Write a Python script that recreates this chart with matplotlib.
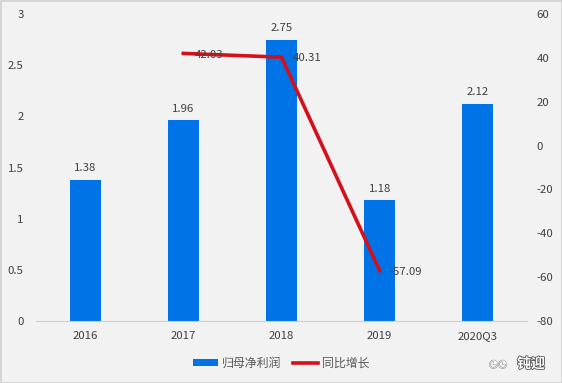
import matplotlib
matplotlib.use('Agg')
import matplotlib.pyplot as plt
import matplotlib.patheffects as pe
from matplotlib.patches import Rectangle

plt.rcParams['font.family'] = ['Noto Sans CJK SC', 'DejaVu Sans']
plt.rcParams['axes.unicode_minus'] = False

categories = ['2016', '2017', '2018', '2019', '2020Q3']
profit = [1.38, 1.96, 2.75, 1.18, 2.12]
growth_x = [1, 2, 3]
growth = [42.03, 40.31, -57.09]
left_ticks = [0, 0.5, 1, 1.5, 2, 2.5, 3]
right_ticks = [-80, -60, -40, -20, 0, 20, 40, 60]

W, H = 562, 383
BG = '#f2f2f3'
TXT = '#404040'
FS = 8.2

fig = plt.figure(figsize=(W / 100, H / 100), dpi=100, facecolor=BG)
fig.add_artist(Rectangle((0, 0), 1, 1, transform=fig.transFigure, fill=False,
                         edgecolor='#d4d4d4', linewidth=2))
ax = fig.add_axes([36 / W, 1 - 321 / H, 491 / W, 307 / H], facecolor=BG)

x = list(range(len(categories)))
bars = ax.bar(x, profit, width=0.315, color='#0073e6', label='归母净利润', zorder=2)
ax.set_xlim(-0.5, 4.5)
ax.set_ylim(0, 3)
ax.set_yticks(left_ticks)
ax.set_yticklabels(['0', '0.5', '1', '1.5', '2', '2.5', '3'])
ax.set_xticks(x)
ax.set_xticklabels(categories)
ax.tick_params(axis='both', length=0, labelsize=FS, labelcolor=TXT)
ax.tick_params(axis='x', pad=7)
ax.tick_params(axis='y', pad=9)
for s in ['top', 'left', 'right']:
    ax.spines[s].set_visible(False)
ax.spines['bottom'].set_color('#cfcfcf')

for xi, v in zip(x, profit):
    ax.text(xi, v + 0.065, f'{v:.2f}', ha='center', va='bottom', fontsize=FS, color=TXT, zorder=5)

ax2 = ax.twinx()
ax2.set_ylim(-80, 60)
ax2.set_yticks(right_ticks)
ax2.tick_params(axis='y', length=0, labelsize=FS, labelcolor=TXT, pad=7)
for s in ax2.spines.values():
    s.set_visible(False)
line, = ax2.plot(growth_x, growth, color='#d4101c', linewidth=2.6, label='同比增长', zorder=3)

for xi, v, dx in zip(growth_x, growth, [0.26, 0.26, 0.27]):
    ax2.text(xi + dx, v - 0.5, f'{v:.2f}', ha='center', va='center', fontsize=FS, color=TXT, zorder=5)

leg = fig.legend(handles=[bars, line], loc='center', bbox_to_anchor=(0.5, 1 - 363 / H), ncol=2,
                 frameon=False, fontsize=8.6, labelcolor='#595959', handlelength=2.1, handleheight=0.55,
                 columnspacing=1.0, handletextpad=0.3)

# watermark
fig.text(531 / W, 1 - 364 / H, '钝迎', ha='center', va='center', fontsize=10, color='white',
         fontweight='bold', path_effects=[pe.withStroke(linewidth=1.2, foreground='#555555')])
fig.text(498 / W, 1 - 364 / H, '◔◔', ha='center', va='center', fontsize=7.5, color='white',
         family=['DejaVu Sans'], path_effects=[pe.withStroke(linewidth=0.8, foreground='#999999')])

fig.savefig('out.png', dpi=100, facecolor=BG)
